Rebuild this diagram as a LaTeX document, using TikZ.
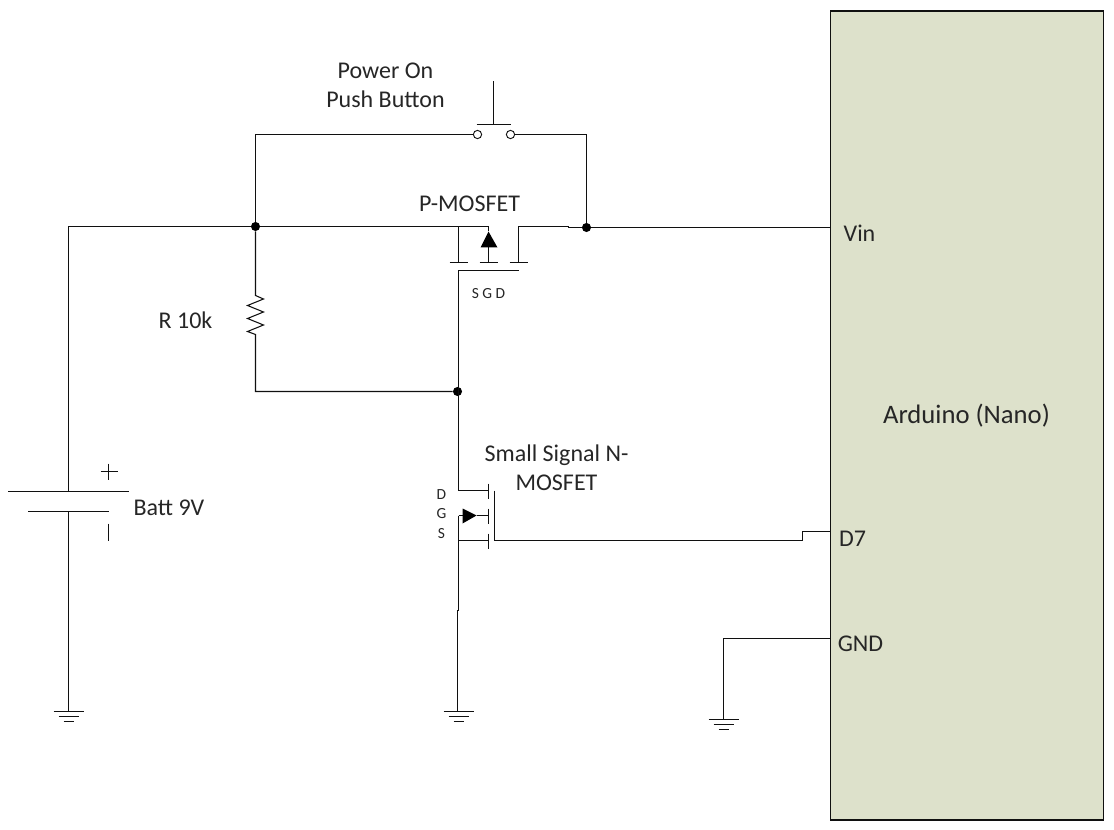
\documentclass[tikz,border=0pt]{standalone}
\usepackage{fontspec}
\setmainfont{Carlito}
\definecolor{boardfill}{HTML}{DDE1CB}
\definecolor{inkline}{HTML}{101010}
\tikzset{
  wire/.style={draw=inkline,line width=0.8pt,line join=miter},
  dotnode/.style={circle,fill=black,inner sep=0pt,minimum size=6.8pt},
  terminal/.style={circle,draw=inkline,fill=white,line width=0.7pt,inner sep=0pt,minimum size=6.2pt},
  lab/.style={inner sep=0pt,text=black!85,font=\fontsize{18}{22}\selectfont},
  tiny/.style={inner sep=0pt,text=black!85,font=\fontsize{11.6}{14}\selectfont},
  board/.style={draw=inkline,line width=0.8pt,fill=boardfill,minimum width=204.75pt,minimum height=606.75pt,inner sep=0pt},
  diodehead/.style={fill=black,draw=none}
}
\begin{document}
\begin{tikzpicture}[x=0.75pt,y=-0.75pt]
\useasboundingbox (-0.5,-0.5) rectangle (1113.5,829.5);
% board
\node[board] (ard) at (966.5,415) {};
\node[font=\fontsize{20}{24}\selectfont,text=black!85,inner sep=0pt] (ardlab) at (966,415) {Arduino (Nano)};
% junctions
\node[dotnode] (j1) at (255,226) {};
\node[dotnode] (j2) at (586,227) {};
\node[dotnode] (j3) at (457,391) {};
% push button
\node[terminal] (sw1) at (477,134) {};
\node[terminal] (sw2) at (510,134) {};
\coordinate (pbL) at (476,124);
\coordinate (pbR) at (510,124);
\coordinate (pbM) at (493,124);
\coordinate (pbT) at (493,81);
\draw[wire] (pbL) -- (pbR);
\draw[wire] (pbM) -- (pbT);
\draw[wire] (j1) |- (sw1);
\draw[wire] (sw2) -| (j2);
% battery
\coordinate (batTop) at (68,491);
\coordinate (batBot) at (68,511);
\coordinate (batTL) at (7.5,491);
\coordinate (batTR) at (128,491);
\coordinate (batBL) at (27.5,511);
\coordinate (batBR) at (108,511);
\draw[wire] (batTL) -- (batTR);
\draw[wire] (batBL) -- (batBR);
\draw[wire] (batTop) |- (j1);
\coordinate (g1) at (68,711);
\draw[wire] (batBot) -- (g1);
\draw[wire] (100,471) -- (117,471) (108,463) -- (108,479);
\draw[wire] (108,523) -- (108,540);
% grounds
\draw[wire] (g1)++(-15,0) -- ++(30,0) (g1)++(-10,5) -- ++(20,0) (g1)++(-5,10) -- ++(10,0);
\coordinate (g2) at (458,711);
\draw[wire] (g2)++(-15,0) -- ++(30,0) (g2)++(-10,5) -- ++(20,0) (g2)++(-5,10) -- ++(10,0);
\coordinate (g3) at (723,719);
\draw[wire] (g3)++(-15,0) -- ++(30,0) (g3)++(-10,5) -- ++(20,0) (g3)++(-5,10) -- ++(10,0);
% P-MOSFET
\coordinate (pS) at (458,226);
\coordinate (pSb) at (458,262);
\coordinate (pA) at (488,226);
\coordinate (pAt) at (488,231);
\coordinate (pStem) at (488,247);
\coordinate (pGb) at (488,262);
\coordinate (pD) at (518,226);
\coordinate (pDb) at (518,262);
\coordinate (pG1) at (458,270);
\coordinate (pG2) at (518,270);
\coordinate (pJog) at (568,226);
\coordinate (pJog2) at (568,227);
\coordinate (j3w) at (458,391);
\draw[wire] (j1) -- (pA) -- (pAt);
\draw[wire] (pS) -- (pSb);
\draw[wire] (pStem) -- (pGb);
\draw[wire] (pDb) -- (pD) -- (pJog) -- (pJog2) -- (j2);
\draw[wire] (449,262) -- (467,262) (479,262) -- (497,262) (509,262) -- (527,262);
\fill[diodehead] (pAt) -- (497,247) -- (480,247) -- cycle;
\draw[wire] (pG2) -- (pG1) -- (j3w);
\coordinate (vin) at (830,227);
\draw[wire] (j2) -- (vin);
% resistor
\coordinate (rT) at (255,295);
\coordinate (rB) at (255,334);
\draw[wire] (j1) -- (rT) -- (263,298.5) -- (247,305) -- (263,311.5) -- (247,318) -- (263,324.5) -- (247,331) -- (rB) |- (j3);
% N-MOSFET
\coordinate (nD) at (458,490);
\coordinate (nDg) at (488,490);
\coordinate (nS) at (458,540);
\coordinate (nSg) at (488,540);
\coordinate (nB) at (458,515);
\coordinate (nBt) at (462,515);
\coordinate (nTip) at (476,515);
\coordinate (nBg) at (488,515);
\coordinate (nLow) at (458,610);
\coordinate (nLow2) at (457,610);
\coordinate (nLow3) at (457,711);
\draw[wire] (j3w) -- (nD) -- (nDg);
\draw[wire] (nB) -- (nLow) -- (nLow2) -- (nLow3);
\draw[wire] (nB) -- (nBt);
\draw[wire] (nS) -- (nSg);
\draw[wire] (nTip) -- (nBg);
\fill[diodehead] (nTip) -- (462,508) -- (462,523) -- cycle;
\draw[wire] (488,483) -- (488,498) (488,508) -- (488,523) (488,533) -- (488,548);
\coordinate (nGt) at (494,490);
\coordinate (d7) at (830,531);
\draw[wire] (nGt) -- (494,540) -- (802,540) -- (802,531) -- (d7);
% GND wire
\coordinate (gnd) at (830,638);
\draw[wire] (gnd) -| (g3);
% labels
\node[lab] (t1) at (385,70) {Power On};
\node[lab] (t2) at (385,98.5) {Push Button};
\node[lab] (t3) at (469,203) {P-MOSFET};
\node[tiny] (t4) at (488,293) {S G D};
\node[lab] (t5) at (185,320) {R 10k};
\node[lab] (t6) at (556,454.5) {Small Signal N-};
\node[lab] (t7) at (556,482) {MOSFET};
\node[tiny] (t8) at (441,494) {D};
\node[tiny] (t9) at (441,513) {G};
\node[tiny] (t10) at (441,533) {S};
\node[lab] (t11) at (168.5,507) {Batt 9V};
\node[lab] (t12) at (859,233) {Vin};
\node[lab] (t13) at (852,538.5) {D7};
\node[lab] (t14) at (860,643.5) {GND};
\end{tikzpicture}
\end{document}
